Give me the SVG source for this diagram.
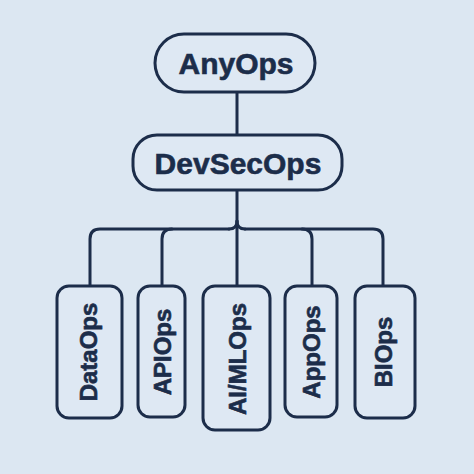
<svg xmlns="http://www.w3.org/2000/svg" width="474" height="474" viewBox="0 0 474 474">
<style>
.box{fill:#dee8f3;stroke:#1c2d4a;stroke-width:3}
.ln{fill:none;stroke:#1c2d4a;stroke-width:3;stroke-linecap:round;stroke-linejoin:round}
.t{font-family:"Liberation Sans",Arial,sans-serif;font-weight:bold;fill:#1c2d4a;stroke:#1c2d4a;stroke-width:0.6;text-anchor:middle}
.big{font-size:30px}
.sm{font-size:24px}
</style>
<rect width="474" height="474" fill="#dce7f2"/>
<g id="connectors">
<path class="ln" d="M237 92V135"/>
<path class="ln" d="M237 190V286"/>
<path class="ln" d="M229 229H100Q90 229 90 239V286"/>
<path class="ln" d="M245 229H373Q383 229 383 239V286"/>
<path class="ln" d="M229 229Q237 229 237 221"/>
<path class="ln" d="M245 229Q237 229 237 221"/>
<path class="ln" d="M172 229Q162 229 162 239V286"/>
<path class="ln" d="M302 229Q312 229 312 239V286"/>
</g>
<g id="anyops">
<rect class="box" x="155" y="34" width="160" height="58" rx="29"/>
<text class="t big" x="236" y="74">AnyOps</text>
</g>
<g id="devsecops">
<rect class="box" x="133" y="135" width="209" height="55" rx="24"/>
<text class="t big" x="238" y="174">DevSecOps</text>
</g>
<g id="dataops">
<rect class="box" x="57" y="286" width="65" height="132" rx="12"/>
<text class="t sm" transform="translate(97,352) rotate(-90)">DataOps</text>
</g>
<g id="apiops">
<rect class="box" x="138" y="286" width="47" height="131" rx="12"/>
<text class="t sm" transform="translate(171,352) rotate(-90)">APIOps</text>
</g>
<g id="aimlops">
<rect class="box" x="203" y="286" width="67" height="144" rx="12"/>
<text class="t sm" transform="translate(246,359) rotate(-90)">AI/MLOps</text>
</g>
<g id="appops">
<rect class="box" x="285" y="286" width="52" height="131" rx="12"/>
<text class="t sm" transform="translate(320,352) rotate(-90)">AppOps</text>
</g>
<g id="biops">
<rect class="box" x="355" y="286" width="60" height="132" rx="12"/>
<text class="t sm" transform="translate(392,352) rotate(-90)">BIOps</text>
</g>
</svg>
